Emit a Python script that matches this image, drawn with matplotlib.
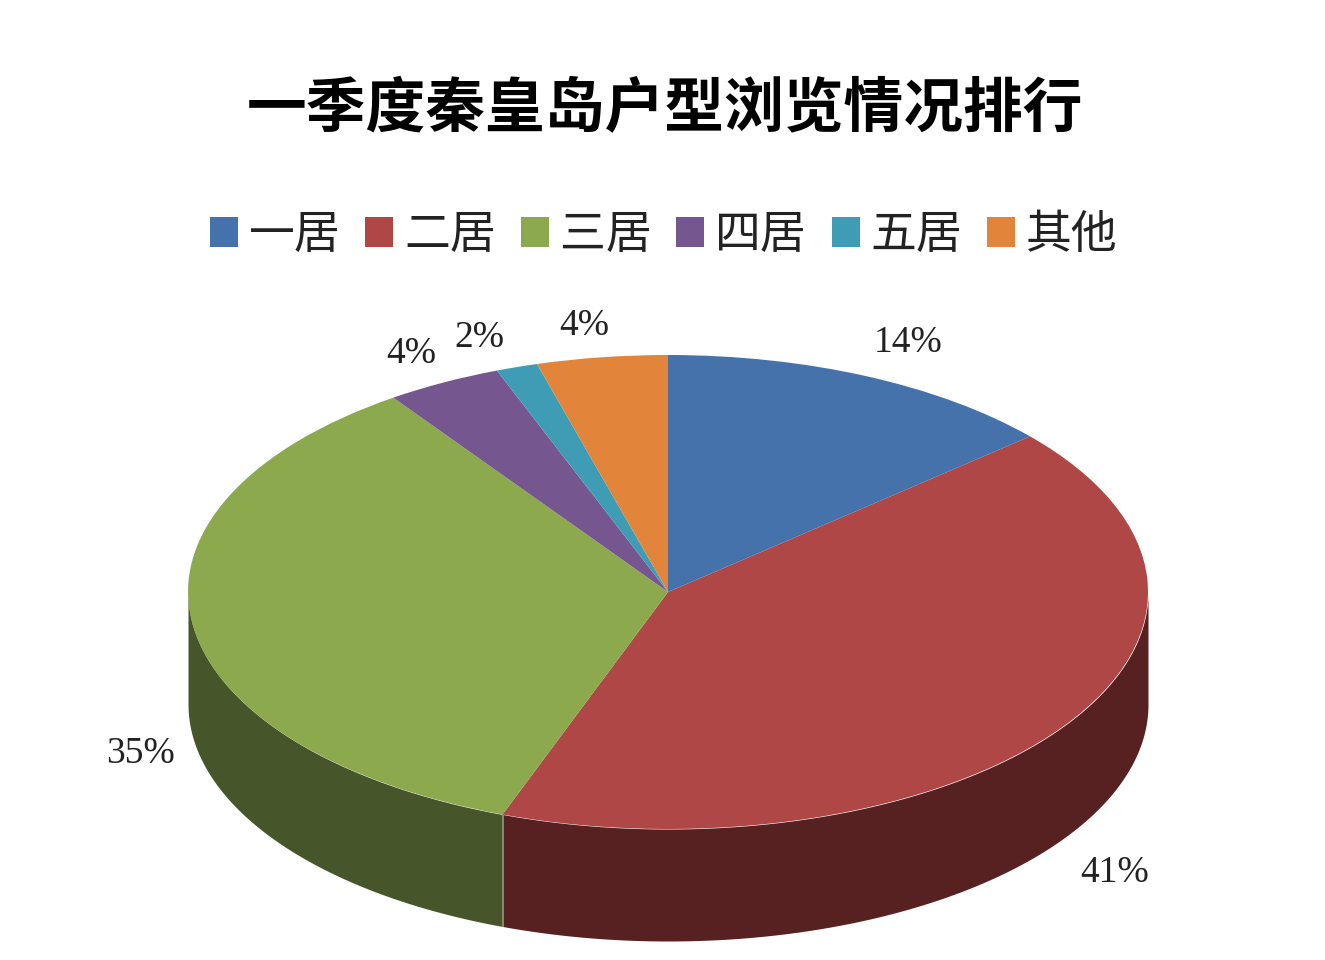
import numpy as np
import matplotlib
matplotlib.use("Agg")
import matplotlib.pyplot as plt

plt.rcParams['font.family'] = ['Noto Sans CJK SC', 'DejaVu Sans']

TITLE = "一季度秦皇岛户型浏览情况排行"
categories = ["一居", "二居", "三居", "四居", "五居", "其他"]
# доли как они нарисованы на картинке (подписи округлены иначе)
shares = [13.6, 42.0, 34.7, 3.9, 1.4, 4.4]
share_labels = ["14%", "41%", "35%", "4%", "2%", "4%"]

top_colors = ["#4672AC", "#AE4745", "#8DA94E", "#75568F", "#3E9DB5", "#E2843A"]
side_colors = ["#2A4468", "#572121", "#47562A", "#46335A", "#255E6D", "#8A5023"]

# пиксели исходной картинки
W, H = 1325, 960
CX, CY = 668, 592
RX, RY = 480, 237
DEPTH = 112 / RY
label_px = [(908, 343), (1115, 873), (141, 754), (411, 354), (479, 338), (584, 326)]

fig = plt.figure(figsize=(W / 100, H / 100), dpi=100, facecolor="white")
ax = fig.add_axes([0, 0, 1, 1])

# верхняя грань
wedges, _ = ax.pie(shares, colors=top_colors, startangle=90, counterclock=False,
                   radius=1, center=(0, 0), frame=False, wedgeprops={"linewidth": 0, "zorder": 3})
ax.set_aspect("auto")
ax.set_xlim(-CX / RX, (W - CX) / RX)
ax.set_ylim(-(H - CY) / RY, CY / RY)
ax.axis("off")

# боковая стенка, только передняя часть (от 90 до 270 градусов по часовой от верха)
ends = np.cumsum(shares) / sum(shares) * 360
starts = ends - np.array(shares) / sum(shares) * 360
for a0, a1, color in zip(starts, ends, side_colors):
    lo, hi = max(a0, 90), min(a1, 270)
    if lo >= hi:
        continue
    t = np.radians(np.linspace(lo, hi, 120))
    x = np.sin(t)
    y = np.cos(t)
    ax.fill_between(x, y, y - DEPTH, color=color, linewidth=0, zorder=2)

# светлый шов между стенками
seam = np.radians(ends[1])
ax.plot([np.sin(seam)] * 2, [np.cos(seam), np.cos(seam) - DEPTH], color="#8E9A7C", lw=1.2, zorder=2.5)

fig.text(665 / W, 1 - 110 / H, TITLE, fontsize=43, fontweight="bold", color="black",
         ha="center", va="center")

ax.legend(wedges, categories, loc="center", bbox_to_anchor=(664 / W, 1 - 235 / H),
          bbox_transform=fig.transFigure, ncol=6, frameon=False, fontsize=33,
          handlelength=0.61, handleheight=0.61, handletextpad=0.24, columnspacing=0.54,
          borderpad=0, labelcolor="#222222")

for txt, (px, py) in zip(share_labels, label_px):
    fig.text(px / W, 1 - py / H, txt, fontsize=27, family="Liberation Serif",
             color="#222222", ha="center", va="center")

fig.savefig("out.png", dpi=100)
